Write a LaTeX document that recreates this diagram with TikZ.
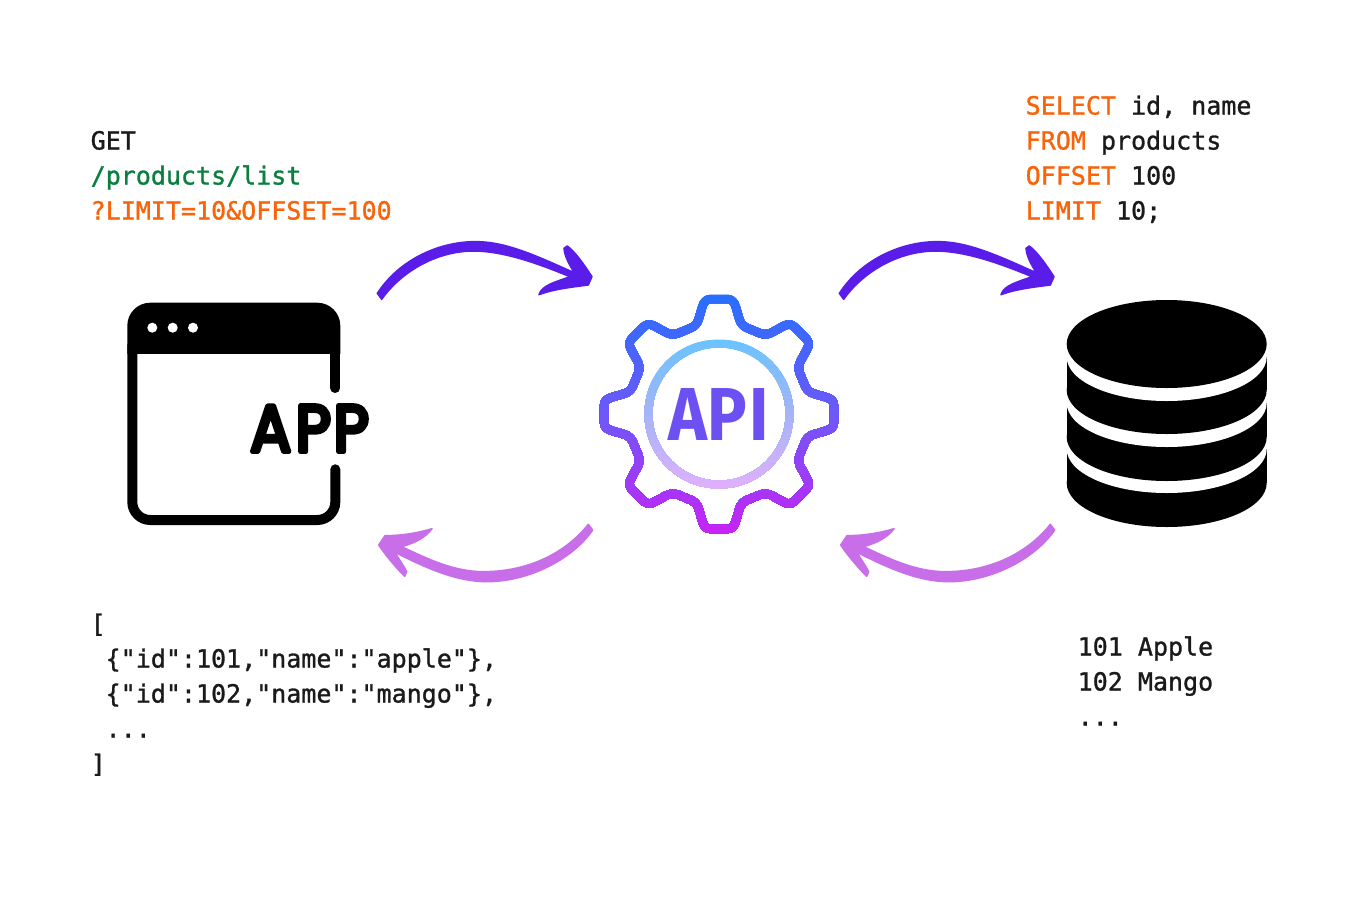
\documentclass[tikz,border=0pt]{standalone}
\usepackage{fontspec}
\setmonofont{DejaVu Sans Mono}
\newfontfamily\appfont{Poppins}
\newfontfamily\apifont{Fira Sans}
\definecolor{orng}{HTML}{F8640A}
\definecolor{grn}{HTML}{0B7F3F}
\definecolor{ink}{HTML}{1A1A1A}
\definecolor{arrowtop}{HTML}{5A1CE8}
\definecolor{arrowbot}{HTML}{C86EE8}
\definecolor{gearA}{HTML}{2470FF}
\definecolor{gearB}{HTML}{6E58F8}
\definecolor{gearC}{HTML}{CC20F5}
\definecolor{ringA}{HTML}{68C4FF}
\definecolor{ringB}{HTML}{A6B4F6}
\definecolor{ringC}{HTML}{E2B0FF}
\definecolor{apicol}{HTML}{6C50F2}
\newcommand{\strk}[2]{\special{pdf: code q 1 j 1 J #1 w 2 Tr}#2\special{pdf: code 0 Tr Q}}
\newcommand{\cl}[1]{\strk{0.3}{#1}}
\tikzset{
  codeline/.style={anchor=base west,inner sep=0pt,font=\fontsize{25}{25}\selectfont\ttfamily,text=ink},
  winstroke/.style={line width=10pt,line cap=round,draw=black},
  toparrow/.style={fill=arrowtop,draw=arrowtop,line width=1.5pt,line join=round},
  botarrow/.style={fill=arrowbot,draw=arrowbot,line width=1.5pt,line join=round},
}
\newcommand{\gearteeth}{%
  \foreach \a in {0,45,...,315}{%
    \draw[rotate=\a,line width=8.5pt,line cap=round,line join=round]
      (-34.5,83.4) -- (-29,85.7) .. controls (-24,87.7) and (-21.5,90.5) .. (-20,96)
      -- (-16.8,107) .. controls (-15.3,112) and (-13,115) .. (-8,115) -- (8,115)
      .. controls (13,115) and (15.3,112) .. (16.8,107) -- (20,96)
      .. controls (21.5,90.5) and (24,87.7) .. (29,85.7) -- (34.5,83.4);
  }%
}
\newcommand{\toparrowshape}{%
  (22,190) .. controls (90,85) and (215,32) .. (325,35) .. controls (405,37) and (485,70) .. (612,128)
  .. controls (600,105) and (585,85) .. (582,55) -- (592,48) .. controls (615,65) and (640,100) .. (666,140)
  -- (655,165) .. controls (600,172) and (550,178) .. (507,194)
  .. controls (515,165) and (560,155) .. (600,140)
  .. controls (490,95) and (400,65) .. (315,63) .. controls (195,62) and (90,130) .. (35,208)
  -- cycle}
\newcommand{\botarrowshape}{%
  (655,28) .. controls (590,110) and (480,170) .. (340,170) .. controls (250,170) and (170,130) .. (95,95)
  .. controls (130,85) and (165,70) .. (186,41) .. controls (140,55) and (90,62) .. (45,62)
  -- (26,90) .. controls (50,125) and (80,160) .. (104,184) -- (110,170) .. controls (100,150) and (85,130) .. (75,112)
  .. controls (170,160) and (260,200) .. (350,200) .. controls (480,200) and (610,130) .. (668,45)
  -- cycle}
\begin{document}
\begin{tikzpicture}[x=1pt,y=-1pt]
\fill[white] (0,0) rectangle (1358,906);
\useasboundingbox (0,0) rectangle (1358,906);

% code texts
\node[codeline] (g1) at (90.5,149.5) {\cl{GET}};
\node[codeline] (g2) at (90.5,184.5) {\textcolor{grn}{\cl{/products/list}}};
\node[codeline] (g3) at (90.5,219.5) {\textcolor{orng}{\cl{?LIMIT=10\&OFFSET=100}}};
\node[codeline] (s1) at (1025.5,114.5) {\textcolor{orng}{\cl{SELECT}}\cl{ id, name}};
\node[codeline] (s2) at (1025.5,149.5) {\textcolor{orng}{\cl{FROM}}\cl{ products}};
\node[codeline] (s3) at (1025.5,184.5) {\textcolor{orng}{\cl{OFFSET}}\cl{ 100}};
\node[codeline] (s4) at (1025.5,219.5) {\textcolor{orng}{\cl{LIMIT}}\cl{ 10;}};
\node[codeline] (j1) at (90.5,632.5) {\cl{[}};
\node[codeline] (j2) at (105.5,667.5) {\cl{\{"id":101,"name":"apple"\},}};
\node[codeline] (j3) at (105.5,702.5) {\cl{\{"id":102,"name":"mango"\},}};
\node[codeline] (j4) at (105.5,737.5) {\cl{...}};
\node[codeline] (j5) at (90.5,772.5) {\cl{]}};
\node[codeline] (r1) at (1077.5,655.5) {\cl{101 Apple}};
\node[codeline] (r2) at (1077.5,690.5) {\cl{102 Mango}};
\node[codeline] (r3) at (1077.5,725.5) {\cl{...}};

% app window
\begin{scope}
  \clip (120,300) rectangle (345,353);
  \fill[black,rounded corners=23pt] (127.3,302.7) rectangle (340.3,420);
\end{scope}
\draw[winstroke,line cap=butt] (335.3,345) -- (335.3,360);
\draw[winstroke] (335.3,350) -- (335.3,388);
\draw[winstroke,rounded corners=18pt] (132.3,345) -- (132.3,520) -- (335.3,520) -- (335.3,469.3);
\foreach \x in {152.3,172.7,193}{\fill[white] (\x,327.7) circle (5);}
\node[inner sep=0pt,anchor=base,font=\appfont\fontsize{66}{66}\selectfont,xscale=.92] (app) at (309.5,451.5) {\strk{4.8}{A\kern5pt P\kern3pt P}};

% gear
\begin{scope}[shift={(719,414)}]
\foreach \i in {0,...,125}{%
  \pgfmathsetmacro{\yy}{-126+2*\i}%
  \pgfmathtruncatemacro{\pa}{min(100,max(0,100-\i*100/63))}%
  \pgfmathtruncatemacro{\pb}{min(100,max(0,200-\i*100/63))}%
  \ifnum\i<63
    \colorlet{curcol}{gearA!\pa!gearB}%
  \else
    \colorlet{curcol}{gearB!\pb!gearC}%
  \fi
  \begin{scope}
    \clip (-130,\yy) rectangle (130,130);
    \begin{scope}[draw=curcol]\gearteeth\end{scope}
  \end{scope}
}
\foreach \i in {0,...,76}{%
  \pgfmathsetmacro{\yy}{-76+2*\i}%
  \pgfmathtruncatemacro{\pa}{min(100,max(0,100-\i*100/38))}%
  \pgfmathtruncatemacro{\pb}{min(100,max(0,200-\i*100/38))}%
  \ifnum\i<38
    \colorlet{curcol}{ringA!\pa!ringB}%
  \else
    \colorlet{curcol}{ringB!\pb!ringC}%
  \fi
  \begin{scope}
    \clip (-80,\yy) rectangle (80,80);
    \draw[draw=curcol,line width=8pt] (0,0) circle (70.5);
  \end{scope}
}
\end{scope}
\node[inner sep=0pt,anchor=base,text=apicol,font=\apifont\bfseries\fontsize{75}{75}\selectfont,xscale=.88] (api) at (719,440) {AP\kern3pt I};

% database
\fill[black] (1066.7,449) rectangle (1266.7,483);
\fill[black] (1166.7,483) ellipse[x radius=100,y radius=44];
\fill[white] (1166.7,449) ellipse[x radius=100,y radius=44];
\fill[black] (1066.7,403) rectangle (1266.7,437);
\fill[black] (1166.7,437) ellipse[x radius=100,y radius=44];
\fill[white] (1166.7,403) ellipse[x radius=100,y radius=44];
\fill[black] (1066.7,357) rectangle (1266.7,390);
\fill[black] (1166.7,390) ellipse[x radius=100,y radius=44];
\fill[white] (1166.7,357) ellipse[x radius=100,y radius=44];
\fill[black] (1166.7,344) ellipse[x radius=100,y radius=44];

% arrows
\begin{scope}[shift={(370,230)},scale=.3333]\filldraw[toparrow] \toparrowshape;\end{scope}
\begin{scope}[shift={(832,230)},scale=.3333]\filldraw[toparrow] \toparrowshape;\end{scope}
\begin{scope}[shift={(370,515)},scale=.3333]\filldraw[botarrow] \botarrowshape;\end{scope}
\begin{scope}[shift={(832,515)},scale=.3333]\filldraw[botarrow] \botarrowshape;\end{scope}
\end{tikzpicture}
\end{document}
